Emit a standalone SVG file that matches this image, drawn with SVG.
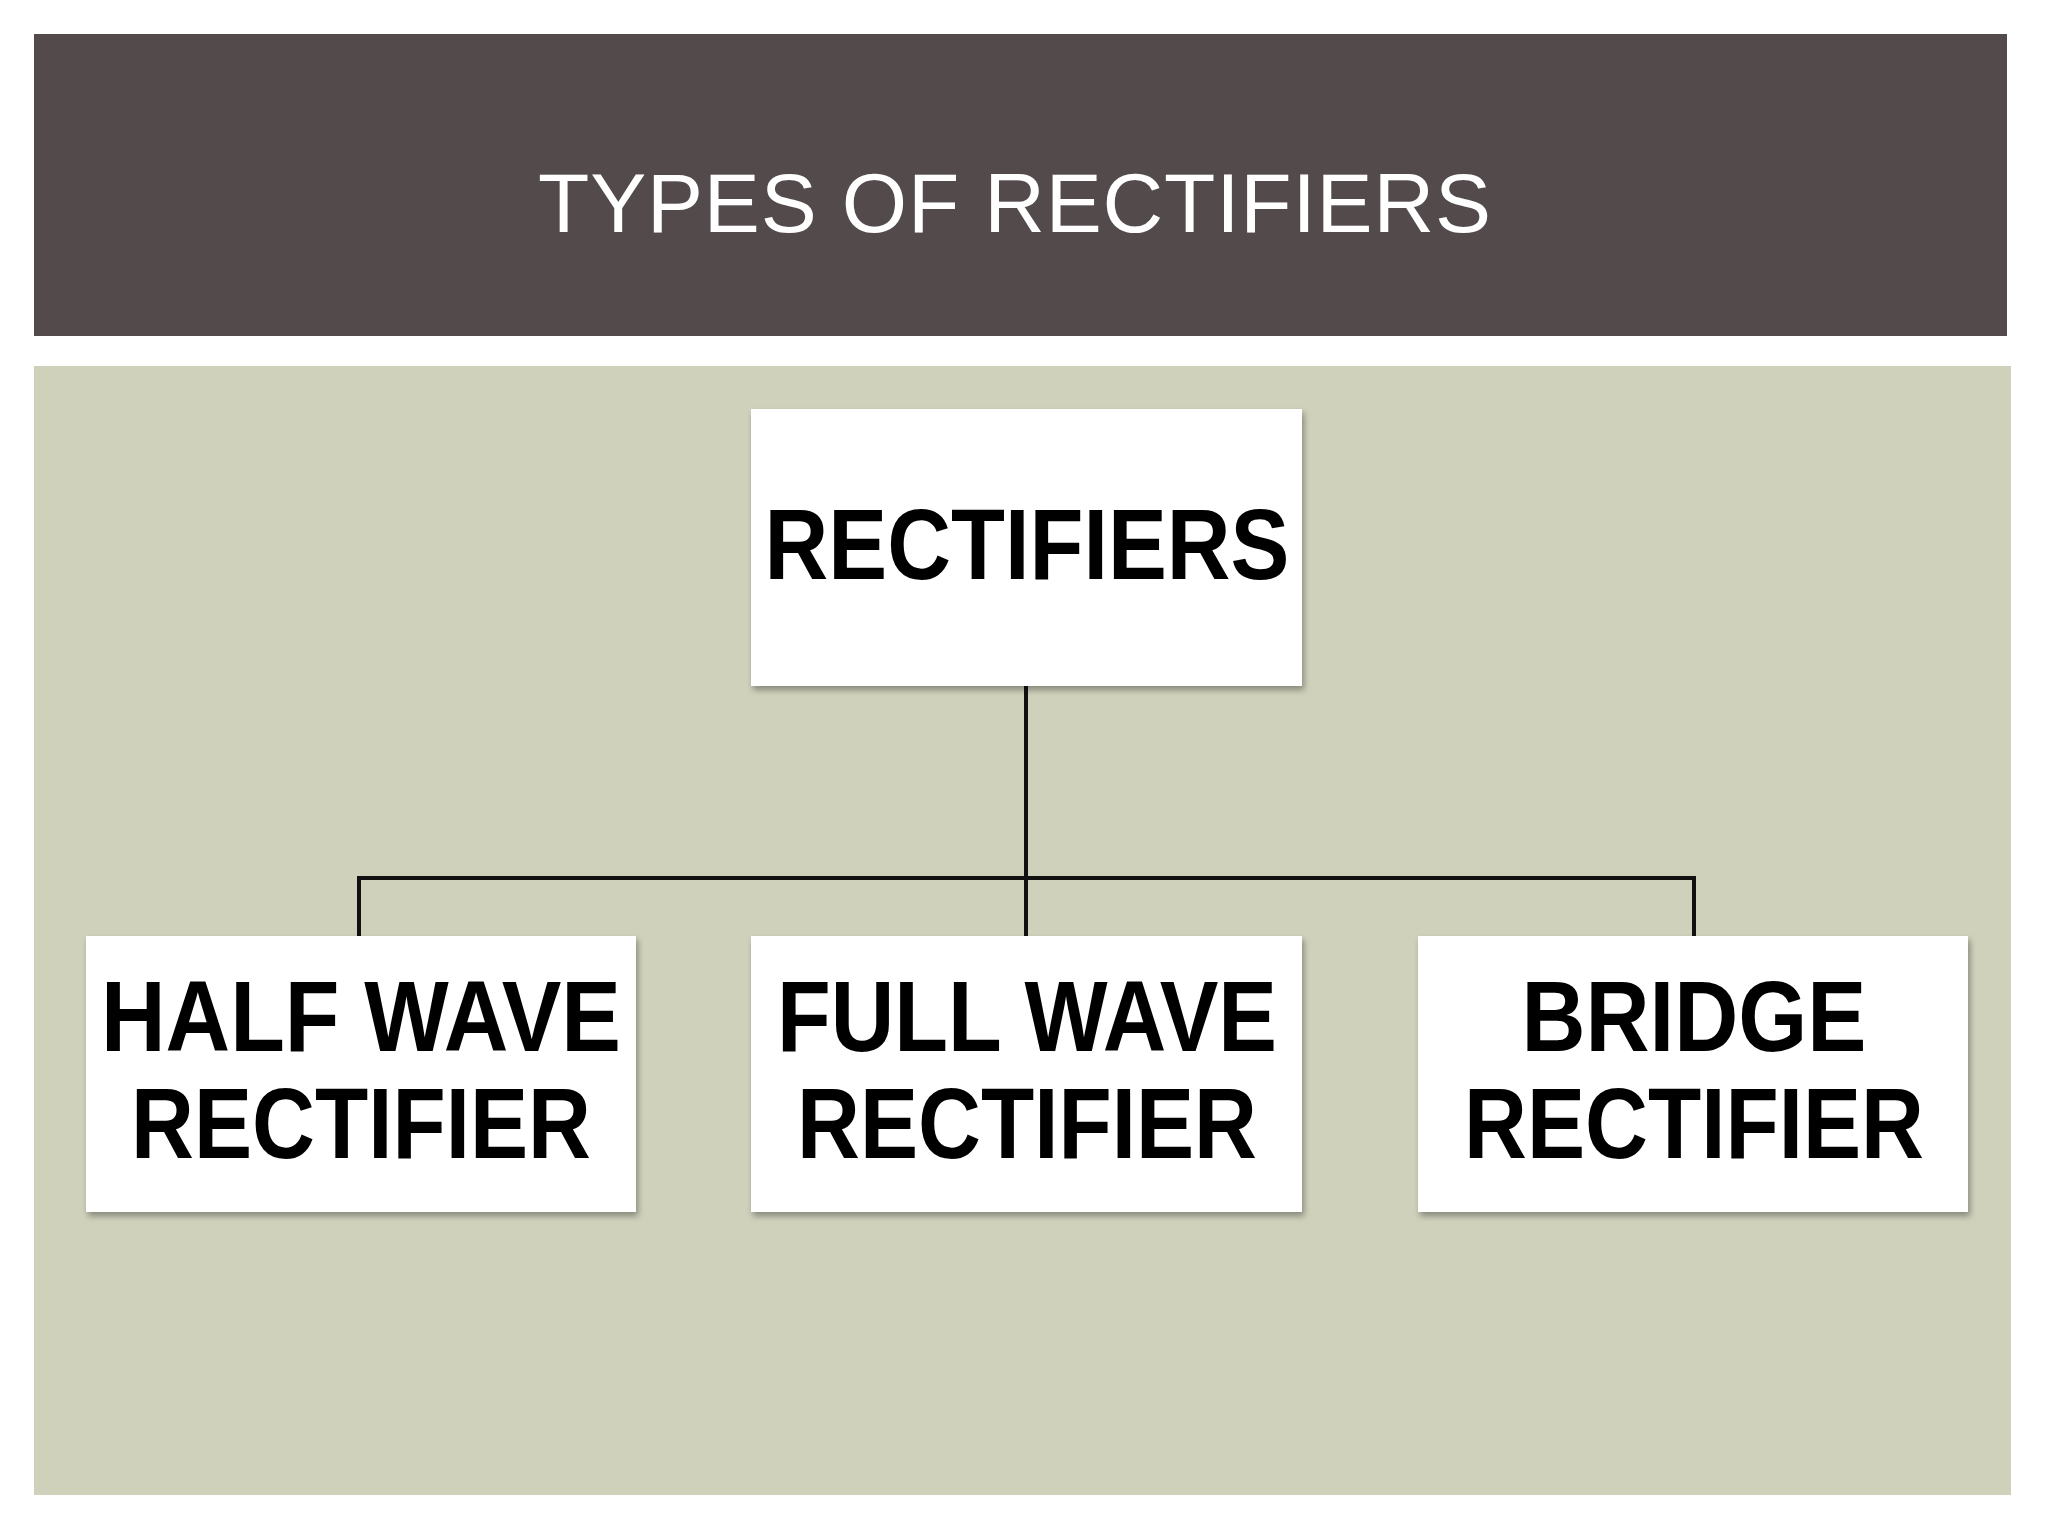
<svg xmlns="http://www.w3.org/2000/svg" width="2048" height="1536" viewBox="0 0 2048 1536">
<defs>
<filter id="sh" x="-5%" y="-5%" width="110%" height="115%"><feDropShadow dx="2" dy="4" stdDeviation="3" flood-color="#000" flood-opacity="0.35"/></filter>
</defs>
<style>
.box{fill:#fff;filter:url(#sh)}
.t{font-family:"Liberation Sans Narrow","Liberation Sans",Arial,sans-serif;font-weight:bold;font-size:100px;fill:#000;text-anchor:middle}
.c{fill:none;stroke:#111;stroke-width:4}
</style>
<rect width="2048" height="1536" fill="#fff"/>
<rect x="34" y="34" width="1973" height="302" fill="#534a4b"/>
<text x="1020" y="232" font-family="Liberation Sans,Arial,sans-serif" font-size="84" fill="#fff" text-anchor="middle" letter-spacing="11" textLength="964">TYPES OF RECTIFIERS</text>
<rect x="34" y="366" width="1977" height="1129" fill="#cfd1bb"/>
<g id="connectors">
<path class="c" d="M1026 686V936M359 936V878H1694V936"/>
</g>
<g id="root"><rect class="box" x="751" y="409" width="551" height="277"/>
<text class="t" x="1027" y="579" textLength="525" lengthAdjust="spacingAndGlyphs">RECTIFIERS</text></g>
<g id="half"><rect class="box" x="86" y="936" width="550" height="276"/>
<text class="t" x="361" y="1051" textLength="520" lengthAdjust="spacingAndGlyphs">HALF WAVE</text>
<text class="t" x="361" y="1158" textLength="460" lengthAdjust="spacingAndGlyphs">RECTIFIER</text></g>
<g id="full"><rect class="box" x="751" y="936" width="551" height="276"/>
<text class="t" x="1027" y="1051" textLength="500" lengthAdjust="spacingAndGlyphs">FULL WAVE</text>
<text class="t" x="1027" y="1158" textLength="460" lengthAdjust="spacingAndGlyphs">RECTIFIER</text></g>
<g id="bridge"><rect class="box" x="1418" y="936" width="550" height="276"/>
<text class="t" x="1694" y="1051" textLength="345" lengthAdjust="spacingAndGlyphs">BRIDGE</text>
<text class="t" x="1694" y="1158" textLength="460" lengthAdjust="spacingAndGlyphs">RECTIFIER</text></g>
</svg>
